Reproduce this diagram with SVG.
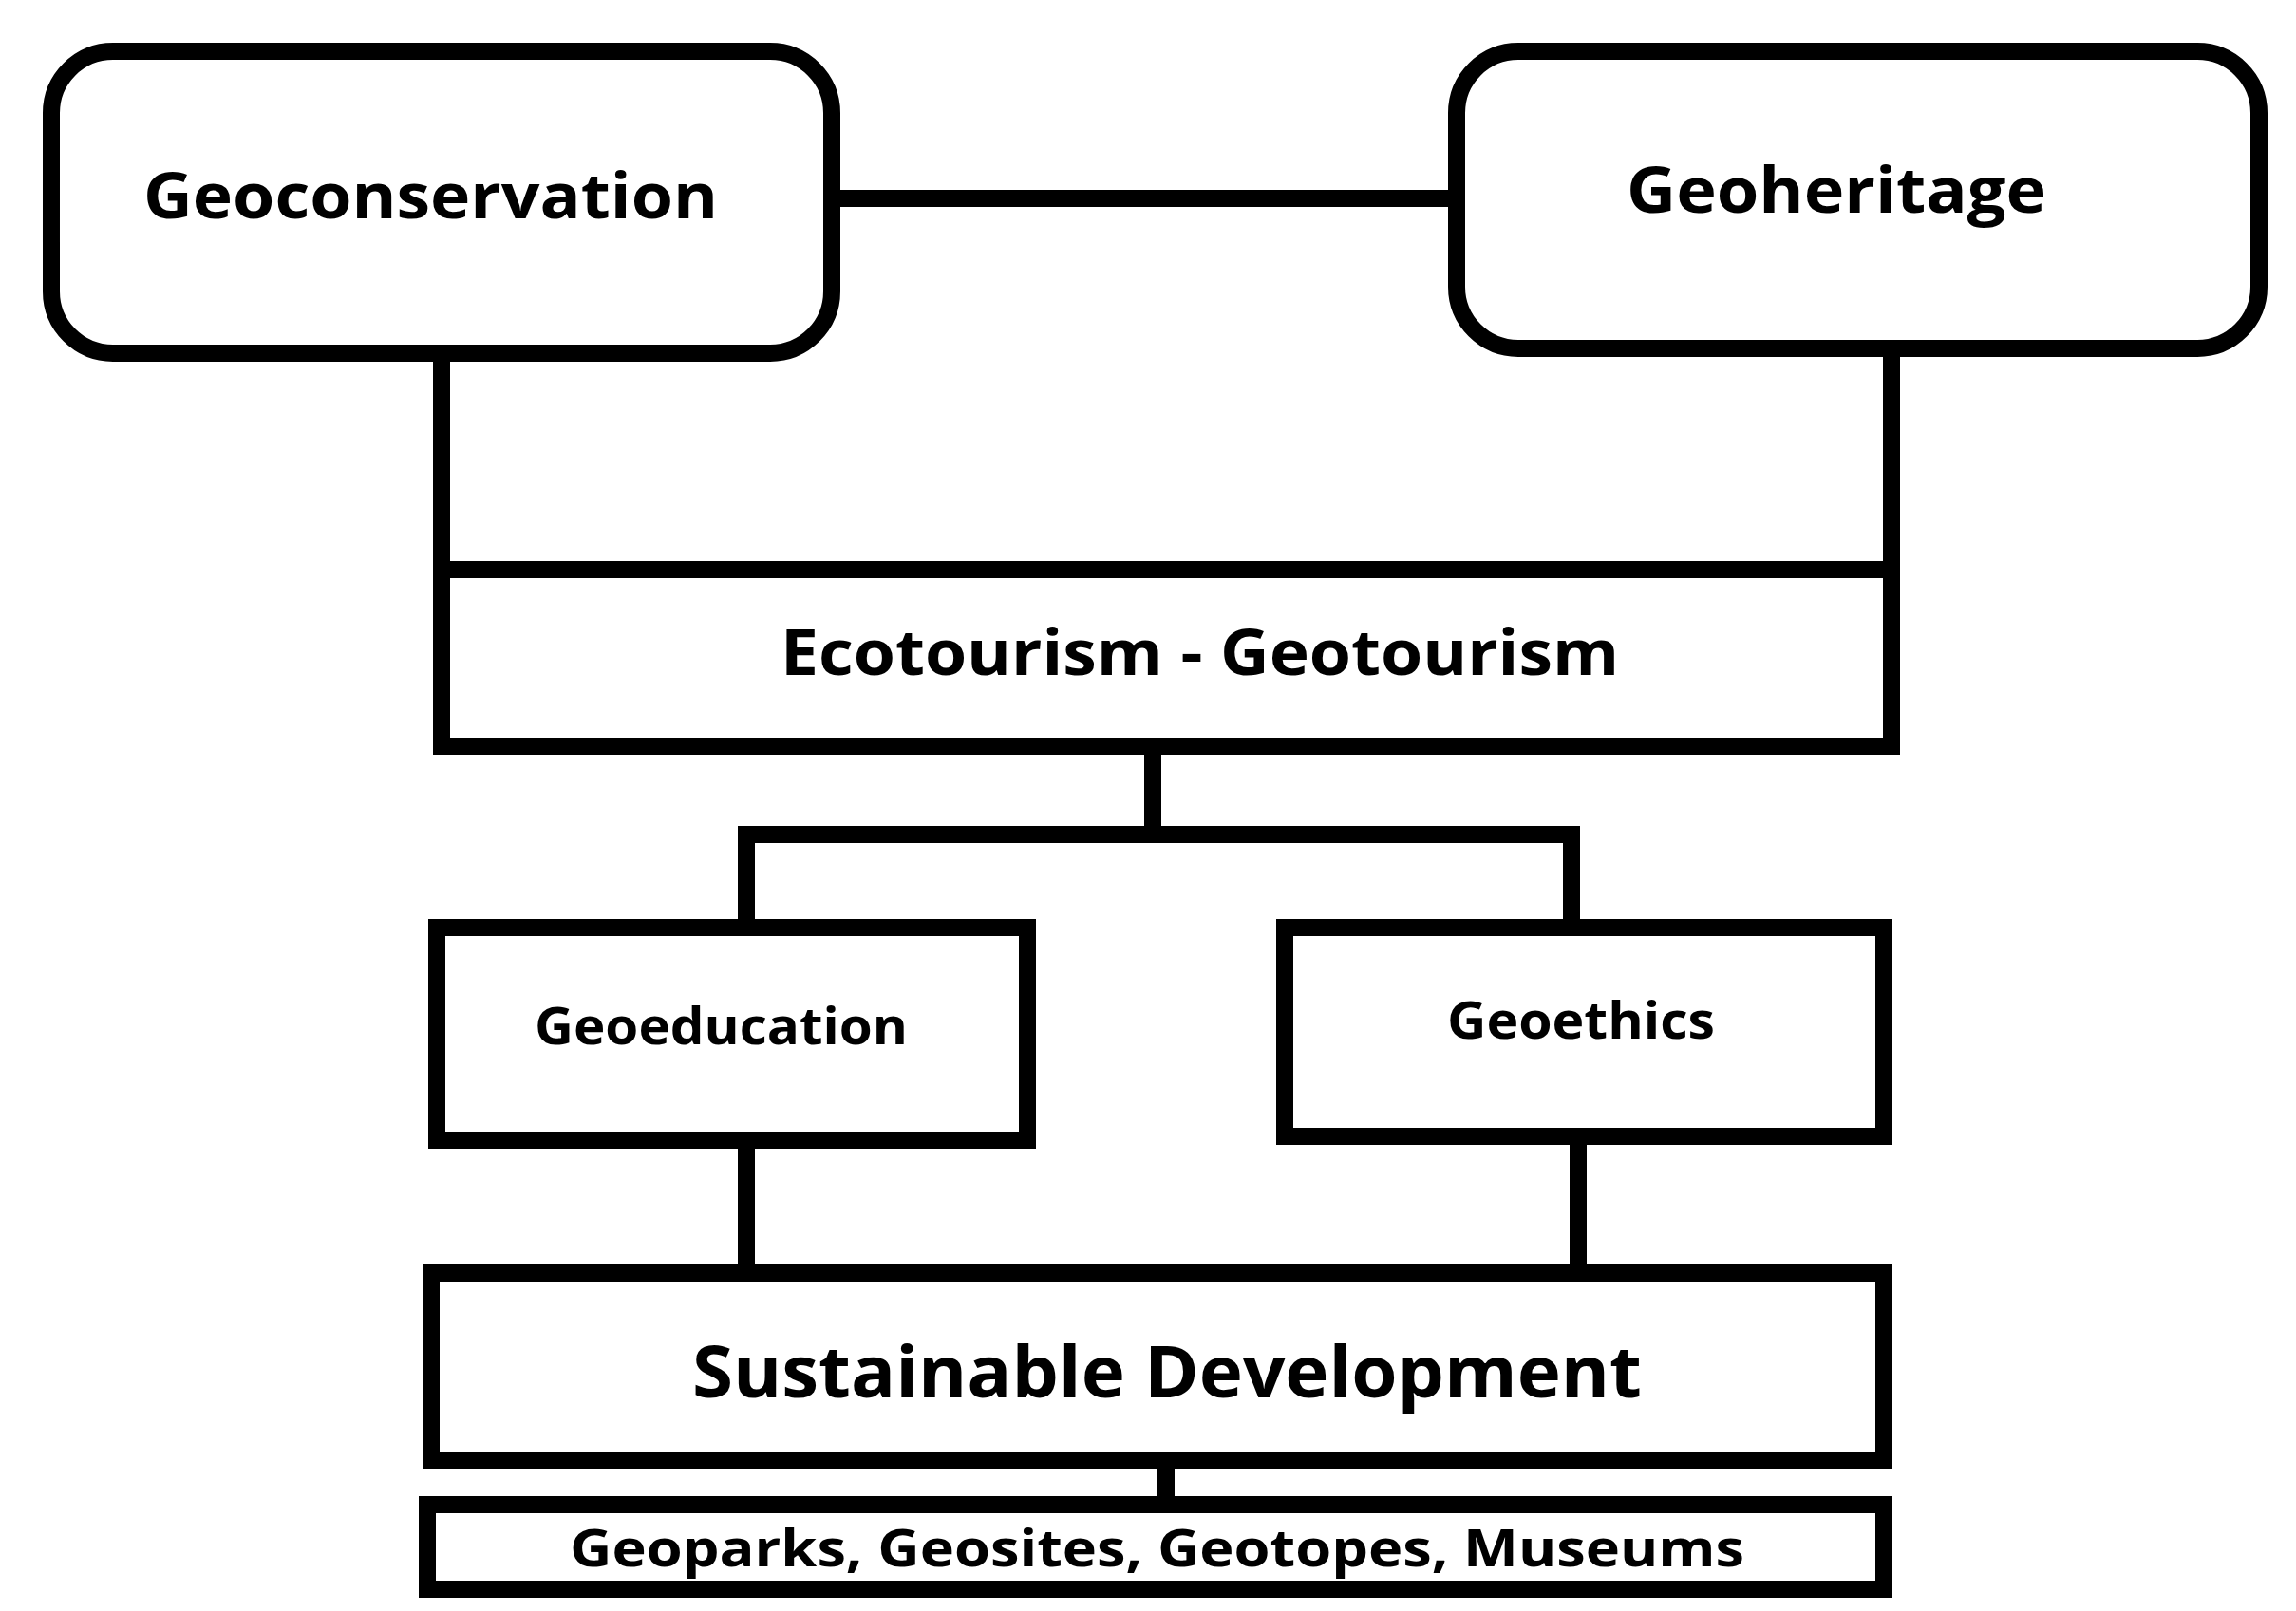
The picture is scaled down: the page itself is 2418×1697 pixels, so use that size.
<svg xmlns="http://www.w3.org/2000/svg" width="2418" height="1697" viewBox="0 0 2418 1697">
<style>
.b{fill:#fff;stroke:#000;stroke-width:18}
.c line{stroke:#000;stroke-width:18}
text{font-family:"Open Sans","Liberation Sans",sans-serif;font-weight:bold;fill:#000;text-anchor:start}
</style>
<rect width="2418" height="1697" fill="#fff"/>
<g class="c" id="connectors">
<line x1="876" y1="209" x2="1534" y2="209"/>
<line x1="465" y1="372" x2="465" y2="600"/>
<line x1="1992" y1="367" x2="1992" y2="600"/>
<line x1="1214" y1="786" x2="1214" y2="879"/>
<line x1="777" y1="879" x2="1664" y2="879"/>
<line x1="786" y1="879" x2="786" y2="977"/>
<line x1="1655" y1="879" x2="1655" y2="977"/>
<line x1="786" y1="1201" x2="786" y2="1341"/>
<line x1="1662" y1="1197" x2="1662" y2="1341"/>
<line x1="1228" y1="1538" x2="1228" y2="1585"/>
</g>
<g id="geoconservation"><rect class="b" x="54" y="54" width="822" height="318" rx="65"/><text x="151" y="230" font-size="66" textLength="605" lengthAdjust="spacingAndGlyphs">Geoconservation</text></g>
<g id="geoheritage"><rect class="b" x="1534" y="54" width="845" height="313" rx="65"/><text x="1713" y="224" font-size="66" textLength="442" lengthAdjust="spacingAndGlyphs">Geoheritage</text></g>
<g id="ecotourism"><rect class="b" x="465" y="600" width="1527" height="186"/><text x="822" y="711" font-size="66" textLength="883" lengthAdjust="spacingAndGlyphs">Ecotourism - Geotourism</text></g>
<g id="geoeducation"><rect class="b" x="460" y="977" width="622" height="224"/><text x="563" y="1100" font-size="54" textLength="393" lengthAdjust="spacingAndGlyphs">Geoeducation</text></g>
<g id="geoethics"><rect class="b" x="1353" y="977" width="631" height="220"/><text x="1524" y="1094" font-size="54" textLength="282" lengthAdjust="spacingAndGlyphs">Geoethics</text></g>
<g id="sustainable"><rect class="b" x="454" y="1341" width="1530" height="197"/><text x="729" y="1472" font-size="76" textLength="1000" lengthAdjust="spacingAndGlyphs">Sustainable Development</text></g>
<g id="geoparks"><rect class="b" x="450" y="1585" width="1534" height="89"/><text x="600" y="1650" font-size="54" textLength="1237" lengthAdjust="spacingAndGlyphs">Geoparks, Geosites, Geotopes, Museums</text></g>
</svg>
